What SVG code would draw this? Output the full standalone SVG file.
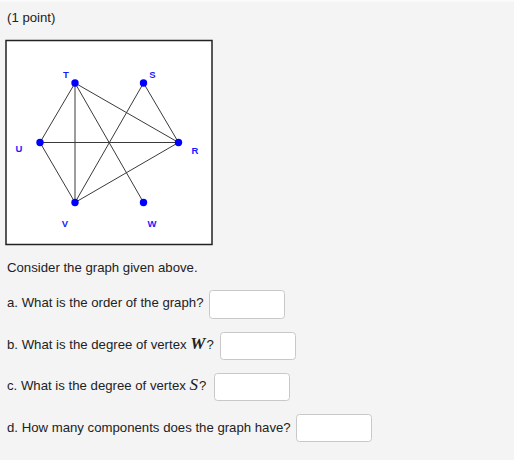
<svg xmlns="http://www.w3.org/2000/svg" width="514" height="460" viewBox="0 0 514 460">
<style>
.t{font-family:"Liberation Sans",Arial,sans-serif;font-size:13.2px;fill:#222}
.m{font-family:"Liberation Serif","Times New Roman",serif;font-style:italic;fill:#222}
.lbl{font-family:"Liberation Sans",Arial,sans-serif;font-size:9.5px;font-weight:bold;fill:#1a1aff;text-anchor:middle}
.dot{fill:#0000ff}
.e{stroke:#3a3a3a;stroke-width:1;fill:none}
.inp{fill:#fff;stroke:#c8c8c8;stroke-width:1}
</style>
<rect x="0" y="0" width="514" height="460" fill="#f4f4f4"/>
<rect x="0" y="0" width="514" height="1.5" fill="#fbfbfb"/>
<text class="t" x="7" y="22">(1 point)</text>
<rect x="6" y="40.5" width="206" height="204" fill="#fff" stroke="#222" stroke-width="1.5"/>
<g id="edges">
<line class="e" x1="75" y1="83" x2="40" y2="142.5"/>
<line class="e" x1="75" y1="83" x2="75" y2="202.5"/>
<line class="e" x1="75" y1="83" x2="178.5" y2="142.5"/>
<line class="e" x1="75" y1="83" x2="143.5" y2="202.5"/>
<line class="e" x1="143.5" y1="83" x2="75" y2="202.5"/>
<line class="e" x1="143.5" y1="83" x2="178.5" y2="142.5"/>
<line class="e" x1="40" y1="142.5" x2="178.5" y2="142.5"/>
<line class="e" x1="40" y1="142.5" x2="75" y2="202.5"/>
<line class="e" x1="75" y1="202.5" x2="178.5" y2="142.5"/>
</g>
<g id="T"><circle class="dot" cx="75" cy="83" r="3.7"/><text class="lbl" x="66" y="77.8">T</text></g>
<g id="S"><circle class="dot" cx="143.5" cy="83" r="3.7"/><text class="lbl" x="152.5" y="77.8">S</text></g>
<g id="U"><circle class="dot" cx="40" cy="142.5" r="3.7"/><text class="lbl" x="19" y="152">U</text></g>
<g id="R"><circle class="dot" cx="178.5" cy="142.5" r="3.7"/><text class="lbl" x="195" y="153.5">R</text></g>
<g id="V"><circle class="dot" cx="75" cy="202.5" r="3.7"/><text class="lbl" x="65" y="227">V</text></g>
<g id="W"><circle class="dot" cx="143.5" cy="202.5" r="3.7"/><text class="lbl" x="152" y="227">W</text></g>
<text class="t" x="7" y="272">Consider the graph given above.</text>
<text class="t" x="7" y="307">a. What is the order of the graph?</text>
<rect class="inp" x="209.5" y="290.5" width="75" height="28" rx="3"/>
<text class="t" x="7" y="349">b. What is the degree of vertex <tspan class="m" font-weight="bold" font-size="17">W</tspan><tspan dx="1">?</tspan></text>
<rect class="inp" x="220.5" y="332.5" width="75" height="27" rx="3"/>
<text class="t" x="7" y="390">c. What is the degree of vertex <tspan class="m" font-size="17">S</tspan><tspan dx="1">?</tspan></text>
<rect class="inp" x="214.5" y="373.5" width="75" height="27" rx="3"/>
<text class="t" x="7" y="432">d. How many components does the graph have?</text>
<rect class="inp" x="296.5" y="414.5" width="75" height="27" rx="3"/>
</svg>
